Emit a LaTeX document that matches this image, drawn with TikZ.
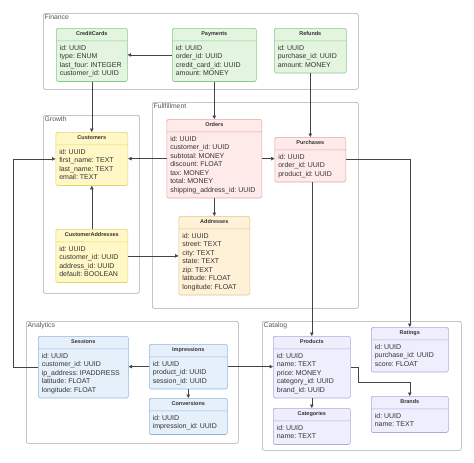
\documentclass[tikz,border=0pt]{standalone}
\usepackage{fontspec}
\setmainfont{Liberation Sans}
\usetikzlibrary{shapes.multipart,arrows.meta}

\definecolor{grpline}{HTML}{A8A8A8}
\definecolor{grptext}{HTML}{555555}
\definecolor{enttext}{HTML}{333333}
\definecolor{linkcol}{HTML}{444444}
\definecolor{finfill}{HTML}{E3F5DF}
\definecolor{finline}{HTML}{8AC98A}
\definecolor{growfill}{HTML}{FFF8C6}
\definecolor{growline}{HTML}{E3D36C}
\definecolor{fulfill}{HTML}{FFEAEA}
\definecolor{fulline}{HTML}{E6A3A6}
\definecolor{addrfill}{HTML}{FFF1D8}
\definecolor{addrline}{HTML}{E5C38C}
\definecolor{anafill}{HTML}{E6F0FA}
\definecolor{analine}{HTML}{92B5DE}
\definecolor{catfill}{HTML}{EFEEFC}
\definecolor{catline}{HTML}{ABA8E0}

\newcommand{\enttitle}[1]{\centering\fontsize{5.5}{6}\selectfont\bfseries\strut #1\par}
\newcommand{\entrows}[1]{\frenchspacing\spaceskip=0pt\xspaceskip=0pt\strut #1\strut}

\begin{document}
\begin{tikzpicture}[x=1pt, y=-1pt,
    group/.style={draw=grpline, line width=0.6pt, rounded corners=2pt, anchor=north west, inner sep=0pt},
    grouplabel/.style={anchor=north west, inner sep=1.5pt, font=\fontsize{6.8}{8}\selectfont, text=grptext},
    entity/.style={rectangle split, rectangle split parts=2, rounded corners=1.5pt, line width=0.6pt, anchor=north west, inner xsep=3.5pt, inner ysep=3pt, font=\fontsize{7}{8.5}\selectfont, text=enttext, align=left},
    finance/.style={entity, fill=finfill, draw=finline},
    growth/.style={entity, fill=growfill, draw=growline},
    fulfil/.style={entity, fill=fulfill, draw=fulline},
    address/.style={entity, fill=addrfill, draw=addrline},
    analytics/.style={entity, fill=anafill, draw=analine},
    catalog/.style={entity, fill=catfill, draw=catline},
    arrow/.style={-{Triangle[length=3.5pt,width=3.5pt]}, draw=linkcol, line width=0.6pt}
    ]
\useasboundingbox (0,0) rectangle (474,463);

% Groups
\node[group, minimum width=315pt, minimum height=76pt, label={[grouplabel]north west:Finance}] (Finance) at (43,13) {};
\node[group, minimum width=96pt, minimum height=178pt, label={[grouplabel]north west:Growth}] (Growth) at (43,115) {};
\node[group, minimum width=206pt, minimum height=206pt, label={[grouplabel]north west:Fullfillment}] (Fulfillment) at (152,102) {};
\node[group, minimum width=212pt, minimum height=122pt, label={[grouplabel]north west:Analytics}] (Analytics) at (26,321) {};
\node[group, minimum width=199pt, minimum height=129pt, label={[grouplabel]north west:Catalog}] (Catalog) at (262,321) {};

% Finance
\node[finance, text width=64pt] (CreditCards) at (56,28) {\enttitle{CreditCards}\nodepart{two}\entrows{id: UUID\\type: ENUM\\last\_four: INTEGER\\customer\_id: UUID}};
\node[finance, text width=77pt] (Payments) at (172,28) {\enttitle{Payments}\nodepart{two}\entrows{id: UUID\\order\_id: UUID\\credit\_card\_id: UUID\\amount: MONEY}};
\node[finance, text width=65pt] (Refunds) at (274,28) {\enttitle{Refunds}\nodepart{two}\entrows{id: UUID\\purchase\_id: UUID\\amount: MONEY}};

% Growth
\node[growth, text width=65pt] (Customers) at (55.5,132) {\enttitle{Customers}\nodepart{two}\entrows{id: UUID\\first\_name: TEXT\\last\_name: TEXT\\email: TEXT}};
\node[growth, text width=65pt] (CustomerAddresses) at (55.5,229) {\enttitle{CustomerAddresses}\nodepart{two}\entrows{id: UUID\\customer\_id: UUID\\address\_id: UUID\\default: BOOLEAN}};

% Fulfillment
\node[fulfil, text width=88pt] (Orders) at (166.5,119) {\enttitle{Orders}\nodepart{two}\entrows{id: UUID\\customer\_id: UUID\\subtotal: MONEY\\discount: FLOAT\\tax: MONEY\\total: MONEY\\shipping\_address\_id: UUID}};
\node[fulfil, text width=64pt] (Purchases) at (274.5,137) {\enttitle{Purchases}\nodepart{two}\entrows{id: UUID\\order\_id: UUID\\product\_id: UUID}};
\node[address, text width=64pt] (Addresses) at (178.5,216) {\enttitle{Addresses}\nodepart{two}\entrows{id: UUID\\street: TEXT\\city: TEXT\\state: TEXT\\zip: TEXT\\latitude: FLOAT\\longitude: FLOAT}};

% Analytics
\node[analytics, text width=83pt] (Sessions) at (38,336) {\enttitle{Sessions}\nodepart{two}\entrows{id: UUID\\customer\_id: UUID\\ip\_address: IPADDRESS\\latitude: FLOAT\\longitude: FLOAT}};
\node[analytics, text width=71pt] (Impressions) at (149,344) {\enttitle{Impressions}\nodepart{two}\entrows{id: UUID\\product\_id: UUID\\session\_id: UUID}};
\node[analytics, text width=71pt] (Conversions) at (149,398) {\enttitle{Conversions}\nodepart{two}\entrows{id: UUID\\impression\_id: UUID}};

% Catalog
\node[catalog, text width=70pt] (Products) at (273,336) {\enttitle{Products}\nodepart{two}\entrows{id: UUID\\name: TEXT\\price: MONEY\\category\_id: UUID\\brand\_id: UUID}};
\node[catalog, text width=70pt] (Categories) at (273,408) {\enttitle{Categories}\nodepart{two}\entrows{id: UUID\\name: TEXT}};
\node[catalog, text width=70pt] (Ratings) at (371,327) {\enttitle{Ratings}\nodepart{two}\entrows{id: UUID\\purchase\_id: UUID\\score: FLOAT}};
\node[catalog, text width=70pt] (Brands) at (371,396) {\enttitle{Brands}\nodepart{two}\entrows{id: UUID\\name: TEXT}};

% References
\draw[arrow] (Payments.west) -- (CreditCards.east);
\draw[arrow] (CreditCards.south) -- (Customers.north);
\draw[arrow] (Payments.south) -- (Orders.north);
\draw[arrow] (Refunds.south) -- (Purchases.north);
\draw[arrow] (Orders.west) -- (Orders.west -| Customers.east);
\draw[arrow] (Orders.east) -- (Orders.east -| Purchases.west);
\draw[arrow] (Orders.south) -- (Addresses.north);
\draw[arrow] (CustomerAddresses.north) -- (Customers.south);
\draw[arrow] (CustomerAddresses.east) -- (CustomerAddresses.east -| Addresses.west);
\draw[arrow] (Purchases.east) -| (Ratings.north);
\draw[arrow] (Products.north |- Purchases.south) -- (Products.north);
\draw[arrow] (Sessions.west) -- ++(-25,0) |- (Customers.west);
\draw[arrow] (Impressions.west) -- (Impressions.west -| Sessions.east);
\draw[arrow] (Impressions.south) -- (Conversions.north);
\draw[arrow] (Impressions.east) -- (Impressions.east -| Products.west);
\draw[arrow] (Products.south) -- (Categories.north);
\draw[arrow] (Products.east) -- ++(8,0) -- ++(0,15) -| (Brands.north);

\end{tikzpicture}
\end{document}
